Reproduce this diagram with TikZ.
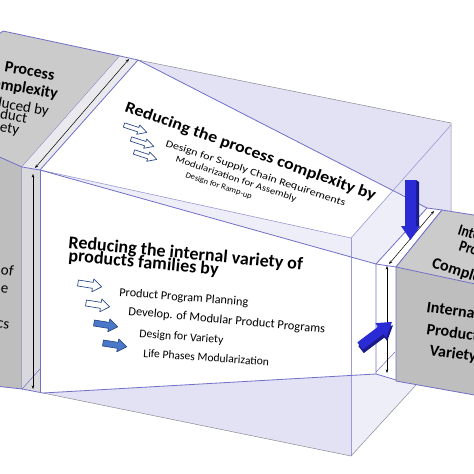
\documentclass[tikz,border=0pt]{standalone}
\usepackage{fontspec}
\setmainfont{Carlito}
\usetikzlibrary{arrows.meta}
\definecolor{edge}{HTML}{7070C8}
\definecolor{lav}{HTML}{E2E2F4}
\definecolor{lavl}{HTML}{EEEEF9}
\definecolor{boxtop}{HTML}{CBCBCB}
\definecolor{boxfront}{HTML}{BEBEBE}
\definecolor{strip}{HTML}{D9D9DD}
\definecolor{slabtop}{HTML}{EAEAEE}
\definecolor{bigblue}{HTML}{2B2BD6}
\definecolor{bigbluedark}{HTML}{1A1A8C}
\definecolor{midblue}{HTML}{4A78C8}
\definecolor{navy}{HTML}{2E4A8C}
\definecolor{obgray}{HTML}{8A8A96}
\definecolor{oblav}{HTML}{9A9AD4}
\begin{document}
\begin{tikzpicture}[x=1pt,y=-1pt,
  ol/.style={draw=edge, line width=0.8pt, line join=round},
  obg/.style={draw=obgray, line width=0.5pt},
  obl/.style={draw=oblav, line width=0.6pt},
  dim/.style={draw=black, line width=0.5pt, {Stealth[length=3.5pt,width=2.6pt]}-{Stealth[length=3.5pt,width=2.6pt]}},
  lbl/.style={inner sep=0pt, anchor=base west},
  lble/.style={inner sep=0pt, anchor=base east},
  hd/.style={font=\bfseries\fontsize{18}{18}\selectfont},
  wa/.style={draw=navy, fill=white, line width=0.7pt, line join=round},
  ba/.style={draw=navy, fill=midblue, line width=0.7pt, line join=round},
  sarrow/.pic={\path[pic actions] (0,-3) -- (15,-3) -- (15,-6.5) -- (24,0) -- (15,6.5) -- (15,3) -- (0,3) -- cycle;},
  bigarrow/.pic={\path[pic actions] (0,-4.5) -- (26,-4.5) -- (26,-9) -- (40,0) -- (26,9) -- (26,4.5) -- (0,4.5) -- cycle;}
]
\useasboundingbox (0,0) rectangle (474,474);
\clip (0,0) rectangle (474,474);
\fill[white] (0,0) rectangle (474,474);

% key corners
\coordinate (LBt) at (3,31);   \coordinate (LBr) at (120,56);
\coordinate (LBf) at (22,167); \coordinate (LBb) at (22,389);
\coordinate (Sft) at (40,170); \coordinate (Sbt) at (138,60);
\coordinate (Sfb) at (43,393);
\coordinate (Rft) at (376,264); \coordinate (Rbt) at (427,208);
\coordinate (Rfb) at (376,374);
\coordinate (RBft) at (396,267); \coordinate (RBbt) at (442,210);
\coordinate (RBfb) at (396,381);
\coordinate (Oft) at (351,238); \coordinate (Obt) at (451,123);
\coordinate (Ofb) at (351,456); \coordinate (Obr) at (451,211);

% lavender transparent faces
\fill[lav] (Sbt) -- (Obt) -- (Obr) -- (RBbt) -- (Rbt) -- cycle;
\fill[lavl] (Oft) -- (392,191.5) -- (Rbt) -- (Rft) -- (351,257) -- cycle;
\fill[lavl] (Sft) -- (Oft) -- (351,257) -- cycle;
\fill[lav] (Sfb) -- (351,375.4) -- (Ofb) -- cycle;
\fill[lavl] (351,375.4) -- (Rfb) -- (RBfb) -- (416,385) -- (Ofb) -- cycle;

% left gray box
\fill[boxtop] (-5,37) -- (LBt) -- (LBr) -- (LBf) -- (-5,155) -- cycle;
\fill[boxfront] (-5,155) -- (LBf) -- (LBb) -- (-5,386) -- cycle;
\draw[ol] (-5,37) -- (LBt) -- (LBr) -- (LBf) -- (-5,155);
\draw[ol] (LBf) -- (LBb) -- (-5,386);

% left slab
\fill[slabtop] (LBf) -- (LBr) -- (Sbt) -- (Sft) -- cycle;
\fill[strip] (LBf) -- (Sft) -- (40,392) -- (LBb) -- cycle;
\draw[ol] (LBr) -- (Sbt) -- (Sft) -- (LBf);
\draw[ol] (Sft) -- (40,393);
\draw[draw=edge, line width=0.5pt] (LBb) -- (40,369);
\draw[ol] (LBb) -- (Sfb);

% outer box (thin)
\draw[obg] (Sbt) -- (Obt) -- (Obr);
\draw[obl] (Sft) -- (Oft) -- (451,125);
\draw[obl] (Oft) -- (Ofb);
\draw[obg] (Sfb) -- (Ofb) -- (416,385);

% funnel panels edges
\draw[ol] (Sbt) -- (Rbt);
\draw[ol] (Sft) -- (Rft);
\draw[ol] (Sfb) -- (Rfb);

% right slab
\fill[white] (Rft) -- (RBft) -- (RBbt) -- (Rbt) -- cycle;
\fill[white] (Rft) -- (RBft) -- (RBfb) -- (Rfb) -- cycle;
\draw[ol] (Rft) -- (Rbt) -- (RBbt) -- (RBft) -- cycle;
\draw[ol] (Rft) -- (Rfb) -- (396,380);
\draw[draw=edge, line width=0.5pt] (376,372) -- (395,352);

% right gray box
\fill[boxtop] (RBft) -- (RBbt) -- (480,216) -- (480,285) -- cycle;
\fill[boxfront] (RBft) -- (480,285) -- (480,396) -- (RBfb) -- cycle;
\draw[ol] (480,216) -- (RBbt) -- (RBft) -- (480,285);
\draw[ol] (RBft) -- (RBfb) -- (480,396);

% dimension arrows
\draw[dim] (33,174) -- (33,389);
\draw[dim] (35,168) -- (129,59);
\draw[dim] (387,266) -- (387,373);
\draw[dim] (389,264) -- (434,211);

% left box texts
\node[lbl, font=\bfseries\fontsize{16}{16}\selectfont, rotate=-10] at (4,71.5) {Process};
\node[lbl, font=\bfseries\fontsize{16}{16}\selectfont, rotate=-10] at (-17,86) {Complexity};
\node[lbl, font=\fontsize{15}{15}\selectfont, rotate=-10] at (-18,104.5) {induced by};
\node[lbl, font=\fontsize{15}{15}\selectfont, rotate=-10] at (-21,115) {Product};
\node[lbl, font=\fontsize{15}{15}\selectfont, rotate=-10] at (-24,127) {Variety};
\node[lble, font=\fontsize{15}{15}\selectfont, rotate=-8] at (13,276) {of};
\node[lble, font=\fontsize{15}{15}\selectfont, rotate=-8] at (8,294) {e};
\node[lble, font=\fontsize{15}{15}\selectfont, rotate=-8] at (9,329) {cs};

% top panel texts
\node[lbl, font=\bfseries\fontsize{16}{16}\selectfont, rotate=-19.7, xscale=1.12] at (124,111) {Reducing the process complexity by};
\node[lbl, font=\fontsize{10}{12}\selectfont, rotate=-18.5, xscale=1.22] at (165,146) {Design for Supply Chain Requirements};
\node[lbl, font=\fontsize{9.2}{12}\selectfont, rotate=-18.5, xscale=1.18] at (175,161.5) {Modularization for Assembly};
\node[lbl, font=\fontsize{8.2}{12}\selectfont, rotate=-18.5, xscale=1.05] at (185,177) {Design for Ramp-up};
\pic[wa, rotate=-18, yscale=0.75] at (124,125) {sarrow};
\pic[wa, rotate=-18, yscale=0.75] at (131,139) {sarrow};
\pic[wa, rotate=-18, yscale=0.75] at (134,152) {sarrow};

% front panel texts
\node[lbl, hd, rotate=-5.4] at (68,248) {Reducing the internal variety of};
\node[lbl, hd, rotate=-5.4] at (68,261) {products families by};
\node[lbl, font=\fontsize{12.2}{12}\selectfont, rotate=-4.5] at (119,296) {Product Program Planning};
\node[lbl, font=\fontsize{12.4}{12}\selectfont, rotate=-5.2] at (128,315) {Develop. of Modular Product Programs};
\node[lbl, font=\fontsize{11.7}{12}\selectfont, rotate=-4.5] at (139,337) {Design for Variety};
\node[lbl, font=\fontsize{11.6}{12}\selectfont, rotate=-4] at (143,357) {Life Phases Modularization};
\pic[wa, rotate=-9] at (78,283) {sarrow};
\pic[wa, rotate=-9] at (86,303) {sarrow};
\pic[ba, rotate=-9] at (94,323) {sarrow};
\pic[ba, rotate=-9] at (103,343) {sarrow};

% right box texts
\node[lbl, font=\bfseries\fontsize{16}{16}\selectfont, rotate=-18, xscale=0.85] at (457,234) {Internal};
\node[lbl, font=\bfseries\fontsize{16}{16}\selectfont, rotate=-18, xscale=0.85] at (458,250) {Product};
\node[lbl, font=\bfseries\fontsize{16}{16}\selectfont, rotate=-18] at (431,267) {Complexity};
\node[lbl, font=\bfseries\fontsize{16}{16}\selectfont, rotate=-8] at (426,312) {Internal};
\node[lbl, font=\bfseries\fontsize{16}{16}\selectfont, rotate=-8] at (426,334) {Product};
\node[lbl, font=\bfseries\fontsize{16}{16}\selectfont, rotate=-8] at (429,355) {Variety};

% big blue arrows
\fill[bigbluedark] (416,180) -- (419,182) -- (419,226) -- (416,226) -- cycle;
\fill[bigblue] (405,180) -- (416,180) -- (416,226) -- (420,226) -- (410.5,240) -- (401,226) -- (405,226) -- cycle;
\pic[fill=bigbluedark, rotate=37] at (361,349.5) {bigarrow};
\pic[fill=bigblue, rotate=37] at (360,346) {bigarrow};
\end{tikzpicture}
\end{document}
